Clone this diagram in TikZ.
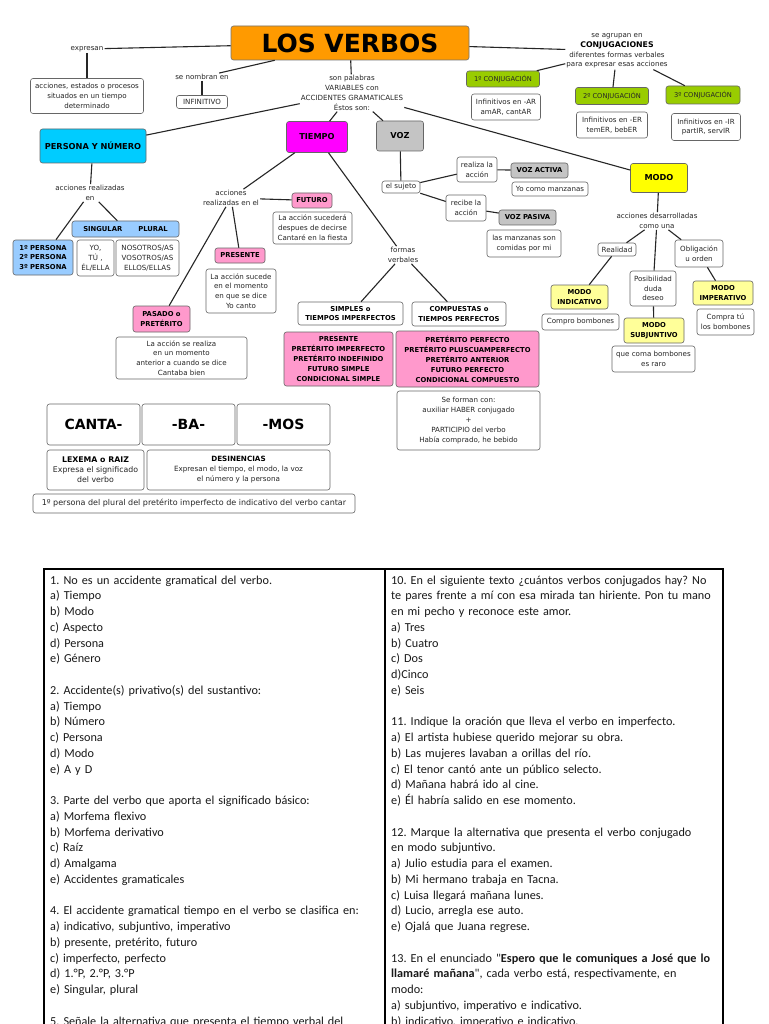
\documentclass[tikz,border=0pt]{standalone}
\usepackage{fontspec}
\setmainfont{DejaVu Sans}
\newfontfamily\calfont{Carlito}
\frenchspacing
\definecolor{vorange}{HTML}{FF9A00}
\definecolor{vcyan}{HTML}{00CCFF}
\definecolor{vmag}{HTML}{FF00FF}
\definecolor{vgray}{HTML}{C4C4C4}
\definecolor{vyellow}{HTML}{FFFF00}
\definecolor{vgreen}{HTML}{99CC00}
\definecolor{vlblue}{HTML}{99CCFF}
\definecolor{vpink}{HTML}{FF99CC}
\definecolor{vlyellow}{HTML}{FFFF99}
\begin{document}
\begin{tikzpicture}[x=1pt,y=-1pt,
  bx/.style={draw=black!60, rounded corners=2.5pt, fill=white, line width=0.6pt, align=center,
    font=\fontsize{7.1}{9.8}\selectfont, text=black!85, inner sep=1.2pt},
  hd/.style={bx, text=black, font=\fontsize{6.8}{9.6}\selectfont\bfseries},
  bighd/.style={bx, text=black, font=\fontsize{8.2}{10}\selectfont\bfseries},
  lb/.style={align=center, font=\fontsize{7.1}{9.8}\selectfont, text=black!85, inner sep=1pt},
  cn/.style={draw=black!85, line width=1.1pt},
  sz/.style 2 args={minimum width=#1, minimum height=#2},
  qtext/.style={anchor=base west, text width=345pt, align=left, inner sep=0pt,
    font=\calfont\fontsize{12.2}{15.75}\selectfont, text=black!90},
]
\useasboundingbox (0,0) rectangle (768,1024);
\clip (0,0) rectangle (768,1024);
\fill[white] (0,0) rectangle (768,1024);

% ---------- title ----------
\node[bx, fill=vorange, draw=black!55, text=black, sz={238pt}{34pt},
  font=\fontsize{25}{25}\selectfont\bfseries] (verbos) at (350,43) {LOS VERBOS};

\node[lb] (expresan) at (87,49) {expresan};
\node[bx, sz={113pt}{35pt}] (acc) at (87,96) {acciones, estados o procesos\\situados en un tiempo\\determinado};
\draw[cn] (expresan) -- (verbos);
\draw[cn] (expresan) -- (acc);

\node[lb] (nombran) at (202,77) {se nombran en};
\node[bx, sz={51pt}{13pt}] (inf) at (202,102) {INFINITIVO};
\draw[cn] (verbos) -- (nombran);
\draw[cn] (nombran) -- (inf);

\node[lb] (son) at (352,93) {son palabras\\VARIABLES con\\ACCIDENTES GRAMATICALES\\Éstos son:};
\draw[cn] (verbos) -- (son);

\node[bighd, fill=vcyan, sz={106pt}{34pt}] (persona) at (93,146) {PERSONA Y NÚMERO};
\node[bighd, fill=vmag, sz={61pt}{31pt}] (tiempo) at (317,137) {TIEMPO};
\node[bighd, fill=vgray, sz={47pt}{30pt}] (voz) at (400,136) {VOZ};
\node[bighd, fill=vyellow, sz={57pt}{29pt}] (modo) at (659,178) {MODO};
\draw[cn] (son) -- (persona);
\draw[cn] (son) -- (tiempo);
\draw[cn] (son) -- (voz);
\draw[cn] (son) -- (modo);

% ---------- conjugaciones ----------
\node[lb] (conj) at (617,51) {se agrupan en\\{\fontsize{7.8}{9.8}\selectfont\bfseries\color{black}CONJUGACIONES}\\diferentes formas verbales\\para expresar esas acciones};
\draw[cn] (verbos) -- (conj);
\node[bx, fill=vgreen, sz={73pt}{16pt}, font=\fontsize{6.7}{9}\selectfont] (c1) at (503,79) {1º CONJUGACIÓN};
\node[bx, sz={69pt}{26pt}] (c1t) at (506,107) {Infinitivos en -AR\\amAR, cantAR};
\node[bx, fill=vgreen, sz={73pt}{17pt}, font=\fontsize{6.7}{9}\selectfont] (c2) at (612,96) {2º CONJUGACIÓN};
\node[bx, sz={71pt}{26pt}] (c2t) at (612,125) {Infinitivos en -ER\\temER, bebER};
\node[bx, fill=vgreen, sz={74pt}{18pt}, font=\fontsize{6.7}{9}\selectfont] (c3) at (703,95) {3º CONJUGACIÓN};
\node[bx, sz={69pt}{27pt}] (c3t) at (706,127) {Infinitivos en -IR\\partIR, servIR};
\draw[cn] (conj) -- (c1);
\draw[cn] (conj) -- (c2);
\draw[cn] (conj) -- (c3);

% ---------- persona ----------
\node[lb] (accreal) at (90,193) {acciones realizadas\\en};
\draw[cn] (persona) -- (accreal);
\node[hd, fill=vlblue, sz={107pt}{16pt}] (sing) at (125.5,229) {SINGULAR\hspace{16pt}PLURAL};
\node[hd, fill=vlblue, sz={60pt}{35pt}] (pers) at (43,257.5) {1º PERSONA\\2º PERSONA\\3º PERSONA};
\node[bx, sz={37pt}{36pt}] (yo) at (95.5,258) {YO,\\TÚ ,\\ÉL/ELLA};
\node[bx, sz={63pt}{36pt}] (noso) at (147.5,258) {NOSOTROS/AS\\VOSOTROS/AS\\ELLOS/ELLAS};
\draw[cn] (accreal) -- (pers);
\draw[cn] (accreal) -- (sing);

% ---------- tiempo ----------
\node[lb] (accel) at (231,198) {acciones\\realizadas en el};
\draw[cn] (tiempo) -- (accel);
\node[hd, fill=vpink, sz={40pt}{15pt}] (futuro) at (312,200.5) {FUTURO};
\node[bx, sz={79pt}{32pt}] (futt) at (312.5,228) {La acción sucederá\\despues de decirse\\Cantaré en la fiesta};
\draw[cn] (accel) -- (futuro);
\node[hd, fill=vpink, sz={50pt}{15pt}] (presente) at (240,255.5) {PRESENTE};
\node[bx, sz={70pt}{44pt}] (prest) at (241,291) {La acción sucede\\en el momento\\en que se dice\\Yo canto};
\draw[cn] (accel) -- (presente);
\node[hd, fill=vpink, sz={57pt}{26pt}] (pasado) at (161.5,319) {PASADO o\\PRETÉRITO};
\node[bx, sz={131pt}{42pt}] (pasadot) at (181.5,358) {La acción se realiza\\en un momento\\anterior a cuando se dice\\Cantaba bien};
\draw[cn] (accel) -- (pasado);

\node[lb] (formas) at (403,255) {formas\\verbales};
\draw[cn] (tiempo) -- (formas);
\node[hd, sz={105pt}{23pt}] (simples) at (350.5,313.5) {SIMPLES o\\TIEMPOS IMPERFECTOS};
\node[hd, sz={94pt}{24pt}] (comp) at (459,314) {COMPUESTAS o\\TIEMPOS PERFECTOS};
\draw[cn] (formas) -- (simples);
\draw[cn] (formas) -- (comp);
\node[hd, fill=vpink, sz={109pt}{54pt}, font=\fontsize{6.8}{10}\selectfont\bfseries] (slist) at (338.5,359) {PRESENTE\\PRETÉRITO IMPERFECTO\\PRETÉRITO INDEFINIDO\\FUTURO SIMPLE\\CONDICIONAL SIMPLE};
\node[hd, fill=vpink, sz={143pt}{56pt}, font=\fontsize{6.8}{10}\selectfont\bfseries] (clist) at (467.5,359) {PRETÉRITO PERFECTO\\PRETÉRITO PLUSCUAMPERFECTO\\PRETÉRITO ANTERIOR\\FUTURO PERFECTO\\CONDICIONAL COMPUESTO};
\node[bx, sz={143pt}{59pt}] (forman) at (468.5,420.5) {Se forman con:\\auxiliar HABER conjugado\\+\\PARTICIPIO del verbo\\Había comprado, he bebido};

% ---------- voz ----------
\node[bx, sz={38pt}{12pt}] (sujeto) at (401,187) {el sujeto};
\draw[cn] (voz) -- (sujeto);
\node[bx, sz={40pt}{25pt}] (realiza) at (477,169.5) {realiza la\\acción};
\node[bx, sz={40pt}{26pt}] (recibe) at (466,208) {recibe la\\acción};
\draw[cn] (sujeto) -- (realiza);
\draw[cn] (sujeto) -- (recibe);
\node[hd, fill=vgray, sz={57pt}{15pt}] (vact) at (539.5,170.5) {VOZ ACTIVA};
\draw[cn] (realiza) -- (vact);
\node[bx, sz={76pt}{14pt}] (vactt) at (550,189) {Yo como manzanas};
\node[hd, fill=vgray, sz={57pt}{15pt}] (vpas) at (527.5,217.5) {VOZ PASIVA};
\draw[cn] (recibe) -- (vpas);
\node[bx, sz={74pt}{27pt}] (vpast) at (524,243.5) {las manzanas son\\comidas por mi};

% ---------- modo ----------
\node[lb] (accdes) at (657,221) {acciones desarrolladas\\como una};
\draw[cn] (modo) -- (accdes);
\node[bx, sz={38pt}{13pt}] (real) at (617,249.5) {Realidad};
\node[bx, sz={46pt}{35pt}] (posib) at (653,288.5) {Posibilidad\\duda\\deseo};
\node[bx, sz={48pt}{27pt}] (oblig) at (699,253.5) {Obligación\\u orden};
\draw[cn] (accdes) -- (real);
\draw[cn] (accdes) -- (posib);
\draw[cn] (accdes) -- (oblig);
\node[hd, fill=vlyellow, sz={57pt}{24pt}] (mind) at (579.5,297) {MODO\\INDICATIVO};
\node[bx, sz={77pt}{16pt}] (mindt) at (580.5,322) {Compro bombones};
\draw[cn] (real) -- (mind);
\node[hd, fill=vlyellow, sz={60pt}{25pt}] (msub) at (654,330.5) {MODO\\SUBJUNTIVO};
\draw[cn] (posib) -- (msub);
\node[bx, sz={83pt}{26pt}] (msubt) at (653.5,359) {que coma bombones\\es raro};
\node[hd, fill=vlyellow, sz={60pt}{24pt}] (mimp) at (723,293) {MODO\\IMPERATIVO};
\draw[cn] (oblig) -- (mimp);
\node[bx, sz={57pt}{26pt}] (mimpt) at (725.5,322) {Compra tú\\los bombones};

% ---------- canta table ----------
\node[bx, sz={93pt}{41pt}, text=black, font=\fontsize{14}{14}\selectfont\bfseries] (canta) at (93.5,424.5) {CANTA-};
\node[bx, sz={93pt}{41pt}, text=black, font=\fontsize{14}{14}\selectfont\bfseries] (ba) at (188.5,424.5) {-BA-};
\node[bx, sz={93pt}{41pt}, text=black, font=\fontsize{14}{14}\selectfont\bfseries] (mos) at (283.5,424.5) {-MOS};
\node[bx, sz={97pt}{40pt}, font=\fontsize{7.8}{10}\selectfont] (lex) at (95.5,470) {{\bfseries\color{black}LEXEMA o RAIZ}\\Expresa el significado\\del verbo};
\node[bx, sz={183pt}{40pt}, font=\fontsize{7.2}{10}\selectfont] (des) at (238.5,470) {{\bfseries\color{black}DESINENCIAS}\\Expresan el tiempo, el modo, la voz\\el número y la persona};
\node[bx, sz={322pt}{19pt}, font=\fontsize{8}{9.6}\selectfont] (pers1) at (194,503.5) {1º persona del plural del pretérito imperfecto de indicativo del verbo cantar};

% ---------- questions table ----------
\draw[line width=1.6pt, black] (44,569) rectangle (723,1040);
\draw[line width=1.6pt, black] (385,569) -- (385,1040);
\node[qtext] (qleft) at (50,584) {1. No es un accidente gramatical del verbo.\\
a) Tiempo\\ b) Modo\\ c) Aspecto\\ d) Persona\\ e) Género\\[15.75pt]
2. Accidente(s) privativo(s) del sustantivo:\\
a) Tiempo\\ b) Número\\ c) Persona\\ d) Modo\\ e) A y D\\[15.75pt]
3. Parte del verbo que aporta el significado básico:\\
a) Morfema flexivo\\ b) Morfema derivativo\\ c) Raíz\\ d) Amalgama\\ e) Accidentes gramaticales\\[15.75pt]
4. El accidente gramatical tiempo en el verbo se clasifica en:\\
a) indicativo, subjuntivo, imperativo\\ b) presente, pretérito, futuro\\ c) imperfecto, perfecto\\ d) 1.°P, 2.°P, 3.°P\\ e) Singular, plural\\[15.75pt]
5. Señale la alternativa que presenta el tiempo verbal del};
\node[qtext] (qright) at (391,584) {10. En el siguiente texto ¿cuántos verbos conjugados hay? No\\
te pares frente a mí con esa mirada tan hiriente. Pon tu mano\\
en mi pecho y reconoce este amor.\\
a) Tres\\ b) Cuatro\\ c) Dos\\ d)Cinco\\ e) Seis\\[15.75pt]
11. Indique la oración que lleva el verbo en imperfecto.\\
a) El artista hubiese querido mejorar su obra.\\
b) Las mujeres lavaban a orillas del río.\\
c) El tenor cantó ante un público selecto.\\
d) Mañana habrá ido al cine.\\
e) Él habría salido en ese momento.\\[15.75pt]
12. Marque la alternativa que presenta el verbo conjugado\\
en modo subjuntivo.\\
a) Julio estudia para el examen.\\
b) Mi hermano trabaja en Tacna.\\
c) Luisa llegará mañana lunes.\\
d) Lucio, arregla ese auto.\\
e) Ojalá que Juana regrese.\\[15.75pt]
13. En el enunciado "{\bfseries Espero que le comuniques a José que lo}\\
{\bfseries llamaré mañana}", cada verbo está, respectivamente, en\\
modo:\\
a) subjuntivo, imperativo e indicativo.\\
b) indicativo, imperativo e indicativo.};
\end{tikzpicture}
\end{document}
